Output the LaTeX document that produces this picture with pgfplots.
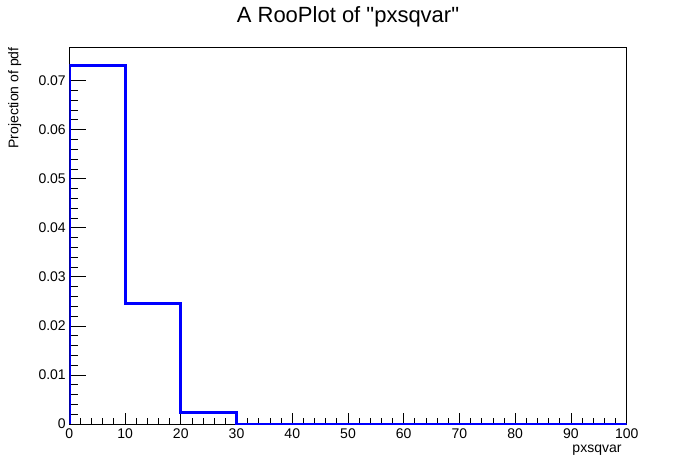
\documentclass[border=0pt]{standalone}
\usepackage{fontspec}
\setmainfont{Liberation Sans}[Ligatures=TeXOff]
\usepackage{pgfplots}
\pgfplotsset{compat=1.18}

\pgfplotsset{
  rooframe/.style={
    at={(69.3pt,48pt)}, anchor=south west,
    scale only axis,
    width=557.4pt, height=376.7pt,
    xmin=0, xmax=100,
    ymin=0, ymax=0.0768,
    tick align=inside,
    xtick pos=bottom, ytick pos=left,
    tick style={black, line width=0.8pt},
    axis line style={black, line width=0.8pt},
    /pgf/number format/assume math mode=true,
    ticklabel style={font=\fontsize{14}{16}\selectfont},
  }
}

\begin{document}
\begin{tikzpicture}[x=1pt,y=1pt]
\path[fill=white] (0,0) rectangle (696,472);
% y axis ticks (longer)
\begin{axis}[
    rooframe,
    xtick=\empty,
    ytick={0,0.01,0.02,0.03,0.04,0.05,0.06,0.07},
    yticklabels={0,0.01,0.02,0.03,0.04,0.05,0.06,0.07},
    minor y tick num=4,
    major tick length=17pt, minor tick length=8.5pt,
    scaled y ticks=false,
    ylabel={Projection of pdf},
    ylabel style={font=\fontsize{14}{16}\selectfont, at={(axis description cs:-0.086,1)}, anchor=south east, inner sep=0pt},
]
\end{axis}
% x axis ticks, title and curve
\begin{axis}[
    rooframe,
    ytick=\empty,
    xtick={0,10,...,100},
    minor x tick num=4,
    major tick length=11pt, minor tick length=6pt,
    xticklabel style={yshift=-1pt},
    title={A RooPlot of "pxsqvar"},
    title style={font=\fontsize{22}{24}\selectfont, at={(axis description cs:0.5,1)}, anchor=base, yshift=19pt},
    xlabel={pxsqvar},
    xlabel style={font=\fontsize{14}{16}\selectfont, at={(axis description cs:1,0)}, anchor=north east, inner sep=0pt, yshift=-21pt, xshift=-5pt},
]
\addplot[const plot mark left, color={rgb,255:red,0;green,0;blue,255}, line width=3pt, line join=miter]
    coordinates {
    (0,0) (0,0.07305) (10,0.02452) (20,0.0024) (30,0) (100,0)
    };
\end{axis}
\end{tikzpicture}
\end{document}
